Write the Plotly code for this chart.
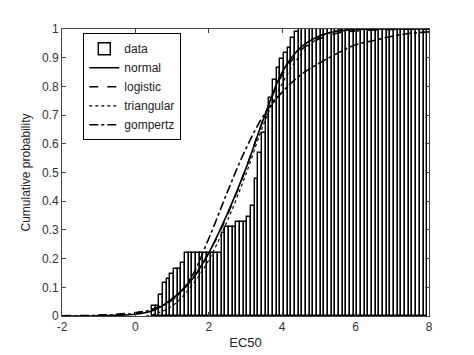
import plotly.graph_objects as go

# Empirical cumulative probability (bars), centres at 0.1 spacing
bar_x = [round(0.5 + 0.1 * i, 1) for i in range(75)]
bar_y = [0.035, 0.035, 0.073, 0.114, 0.128, 0.145, 0.163, 0.163, 0.183,
         0.218, 0.218, 0.218, 0.218, 0.218, 0.218, 0.218, 0.218, 0.218, 0.218,
         0.288, 0.311, 0.311, 0.311, 0.327, 0.327, 0.327, 0.346, 0.383, 0.476,
         0.567, 0.639, 0.70, 0.76, 0.822, 0.863, 0.894, 0.915, 0.933, 0.967, 0.99]
bar_y = bar_y + [1.0] * (len(bar_x) - len(bar_y))

# Fitted curves
normal_x = [-2, -1, 0, 0.5, 1.0, 1.5, 2.0, 2.5, 3.0, 3.5, 4.0, 4.5, 5.0, 5.5, 6.0, 7.0, 8.0]
normal_y = [0.0, 0.001, 0.006, 0.02, 0.06, 0.12, 0.22, 0.355, 0.51, 0.69, 0.85, 0.935, 0.975, 0.992, 0.998, 1.0, 1.0]

logistic_x = [-2, -1, 0, 0.5, 1.0, 1.5, 2.0, 2.5, 3.0, 3.5, 4.0, 4.5, 5.0, 5.5, 6.0, 7.0, 8.0]
logistic_y = [0.001, 0.003, 0.012, 0.025, 0.06, 0.12, 0.22, 0.35, 0.51, 0.69, 0.84, 0.925, 0.965, 0.985, 0.993, 0.998, 1.0]

triangular_x = [-2, 0.3, 1.0, 1.5, 2.0, 2.5, 3.0, 3.5, 4.0, 4.5, 5.0, 5.5, 5.8, 8.0]
triangular_y = [0.0, 0.0, 0.035, 0.10, 0.195, 0.33, 0.49, 0.67, 0.81, 0.91, 0.97, 0.996, 1.0, 1.0]

gompertz_x = [-2, -1, 0, 0.5, 1.0, 1.5, 2.0, 2.5, 3.0, 3.5, 4.0, 4.5, 5.0, 5.5, 6.0, 6.5, 7.0, 7.5, 8.0]
gompertz_y = [0.0, 0.002, 0.01, 0.025, 0.055, 0.13, 0.27, 0.43, 0.58, 0.70, 0.78, 0.84, 0.88, 0.915, 0.945, 0.96, 0.975, 0.985, 0.99]

x_ticks = [-2, 0, 2, 4, 6, 8]
x_labels = ["-2", "0", "2", "4", "6", "8"]
y_ticks = [0, 0.1, 0.2, 0.3, 0.4, 0.5, 0.6, 0.7, 0.8, 0.9, 1]
y_labels = ["0", "0.1", "0.2", "0.3", "0.4", "0.5", "0.6", "0.7", "0.8", "0.9", "1"]

fig = go.Figure()
fig.add_trace(go.Bar(x=bar_x, y=bar_y, width=0.1, name="data",
                     marker=dict(color="white", line=dict(color="black", width=1.4))))
fig.add_trace(go.Scatter(x=normal_x, y=normal_y, mode="lines", name="normal",
                         line=dict(color="black", width=1.6, shape="spline")))
fig.add_trace(go.Scatter(x=logistic_x, y=logistic_y, mode="lines", name="logistic",
                         line=dict(color="black", width=1.6, dash="dash", shape="spline")))
fig.add_trace(go.Scatter(x=triangular_x, y=triangular_y, mode="lines", name="triangular",
                         line=dict(color="black", width=1.2, dash="dot", shape="spline")))
fig.add_trace(go.Scatter(x=gompertz_x, y=gompertz_y, mode="lines", name="gompertz",
                         line=dict(color="black", width=1.6, dash="dashdot", shape="spline")))

axis_common = dict(showgrid=False, zeroline=False, showline=True, linecolor="#444",
                   linewidth=1, mirror="ticks", ticks="inside", ticklen=4,
                   tickcolor="#444", automargin=False,
                   tickfont=dict(family="Arial, Liberation Sans", size=12, color="#333"))

fig.update_layout(
    width=466, height=347,
    margin=dict(l=54, r=45, t=21, b=39),
    paper_bgcolor="white", plot_bgcolor="white",
    bargap=0,
    font=dict(family="Arial, Liberation Sans", size=12, color="#222"),
    xaxis=dict(range=[-2, 8], tickvals=x_ticks, ticktext=x_labels,
               title=dict(text="EC50", standoff=4, font=dict(size=13)), **axis_common),
    yaxis=dict(range=[0, 1], tickvals=y_ticks, ticktext=y_labels,
               title=dict(text="Cumulative probability", standoff=8, font=dict(size=12)), **axis_common),
    legend=dict(x=0.058, y=0.985, xanchor="left", yanchor="top",
                bgcolor="white", bordercolor="black", borderwidth=1,
                font=dict(size=12, color="#222"), tracegroupgap=0,
                itemwidth=30),
    showlegend=True,
)

fig.write_html("out.html")
